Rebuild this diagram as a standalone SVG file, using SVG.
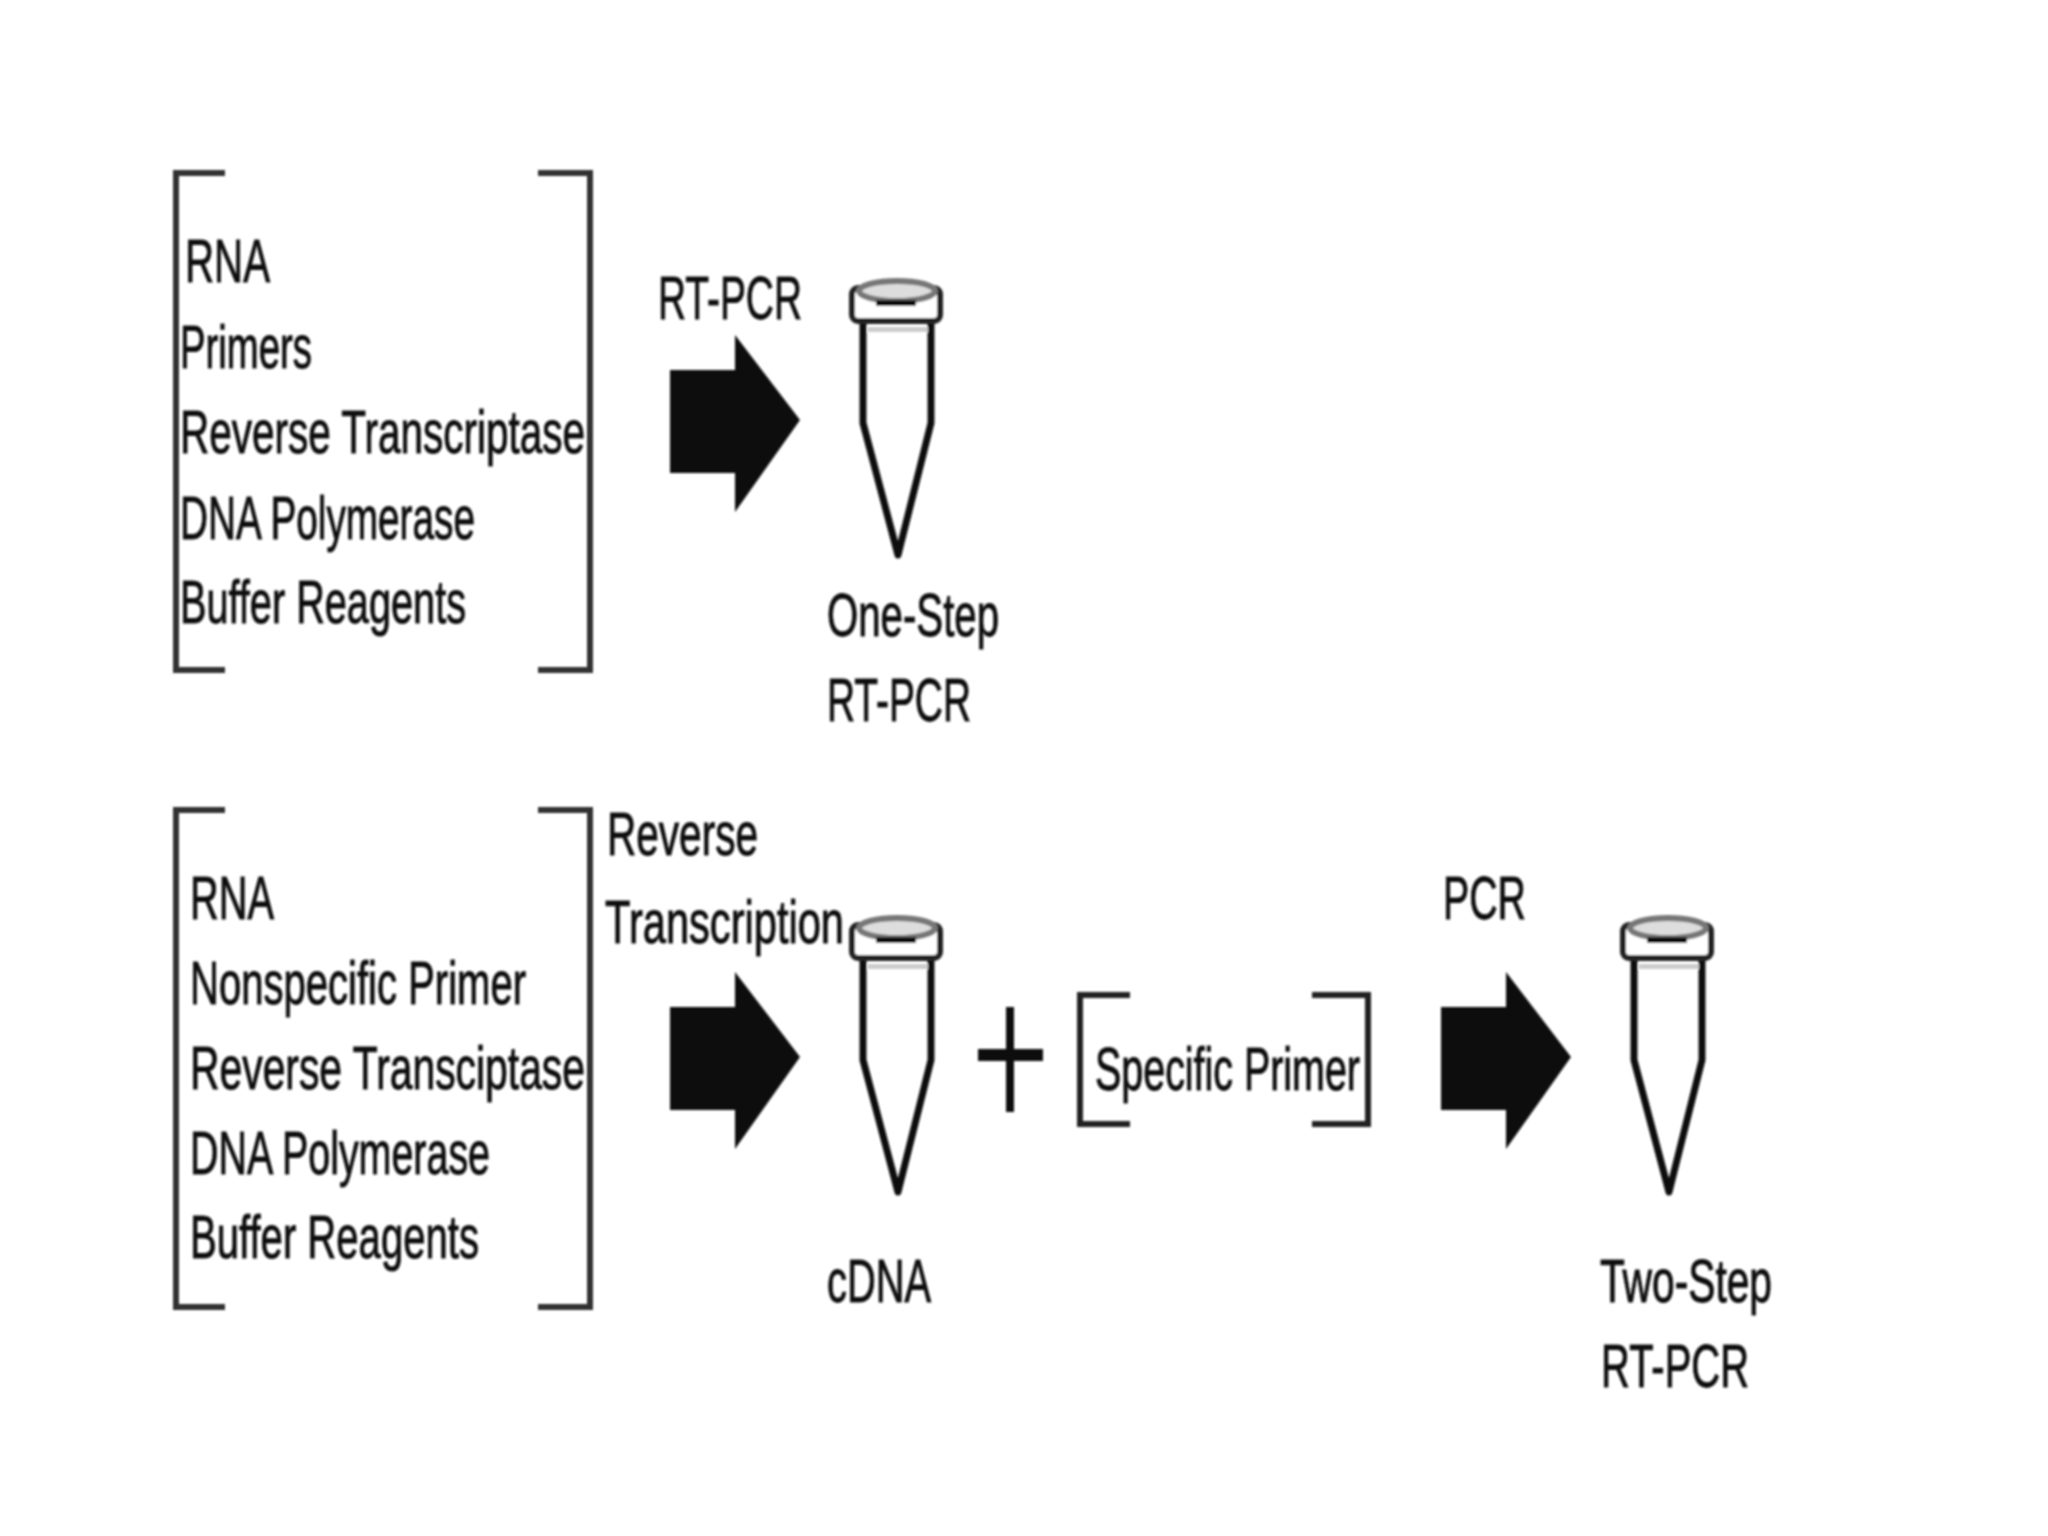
<svg xmlns="http://www.w3.org/2000/svg" width="2048" height="1536" viewBox="0 0 2048 1536">
<defs>
<style>
text{font-family:"Liberation Sans",Arial,sans-serif;font-size:62px;fill:#111;stroke:#111;stroke-width:1}
.br{fill:none;stroke:#333;stroke-width:6}
.tb{fill:none;stroke:#111;stroke-width:7;stroke-linejoin:round}
</style>
<filter id="soft" x="-5%" y="-5%" width="110%" height="110%"><feGaussianBlur stdDeviation="1.2"/></filter>
<g id="tube">
<path class="tb" d="M863 322V423L898 555L931 423V322"/>
<rect x="852" y="288" width="88" height="33" rx="6" fill="#fff" stroke="#222" stroke-width="6"/>
<ellipse cx="897" cy="291" rx="38" ry="10" fill="#ddd" stroke="#777" stroke-width="6"/>
<rect x="876" y="300" width="40" height="6" fill="#111"/>
<rect x="868" y="327" width="60" height="5" fill="#ccc"/>
</g>
<path id="arrow" d="M670 370H735V335L800 420L735 512V473H670Z" fill="#0c0c0c"/>
<g id="bigbr">
<path class="br" d="M225 173H176V670H225M538 173H590V670H538"/>
</g>
</defs>
<rect width="2048" height="1536" fill="#fff"/>
<g filter="url(#soft)">
<g id="connectors">
<use href="#arrow"/>
<use href="#arrow" y="637"/>
<use href="#arrow" x="771" y="637"/>
</g>
<g id="mix-one-step">
<use href="#bigbr"/>
<text x="185" y="282" textLength="85" lengthAdjust="spacingAndGlyphs">RNA</text>
<text x="180" y="368" textLength="132" lengthAdjust="spacingAndGlyphs">Primers</text>
<text x="180" y="453" textLength="405" lengthAdjust="spacingAndGlyphs">Reverse Transcriptase</text>
<text x="180" y="539" textLength="295" lengthAdjust="spacingAndGlyphs">DNA Polymerase</text>
<text x="180" y="623" textLength="286" lengthAdjust="spacingAndGlyphs">Buffer Reagents</text>
</g>
<g id="label-rt-pcr"><text x="658" y="319" textLength="144" lengthAdjust="spacingAndGlyphs">RT-PCR</text></g>
<g id="tube-one-step">
<use href="#tube"/>
<text x="827" y="636" textLength="172" lengthAdjust="spacingAndGlyphs">One-Step</text>
<text x="827" y="721" textLength="144" lengthAdjust="spacingAndGlyphs">RT-PCR</text>
</g>
<g id="mix-two-step">
<use href="#bigbr" y="637"/>
<text x="190" y="919" textLength="84" lengthAdjust="spacingAndGlyphs">RNA</text>
<text x="190" y="1004" textLength="336" lengthAdjust="spacingAndGlyphs">Nonspecific Primer</text>
<text x="190" y="1089" textLength="395" lengthAdjust="spacingAndGlyphs">Reverse Transciptase</text>
<text x="190" y="1174" textLength="300" lengthAdjust="spacingAndGlyphs">DNA Polymerase</text>
<text x="190" y="1258" textLength="289" lengthAdjust="spacingAndGlyphs">Buffer Reagents</text>
</g>
<g id="label-rev-trans">
<text x="607" y="855" textLength="151" lengthAdjust="spacingAndGlyphs">Reverse</text>
<text x="605" y="943" textLength="239" lengthAdjust="spacingAndGlyphs">Transcription</text>
</g>
<g id="tube-cdna">
<use href="#tube" y="637"/>
<text x="827" y="1302" textLength="104" lengthAdjust="spacingAndGlyphs">cDNA</text>
</g>
<g id="plus">
<rect x="1006" y="1007" width="8" height="105" fill="#111"/>
<rect x="978" y="1049" width="65" height="12" fill="#111"/>
</g>
<g id="specific-primer">
<path class="br" d="M1130 995H1080V1124H1130M1312 995H1368V1124H1312" style="stroke:#222"/>
<text x="1095" y="1090" textLength="265" lengthAdjust="spacingAndGlyphs">Specific Primer</text>
</g>
<g id="label-pcr"><text x="1443" y="919" textLength="83" lengthAdjust="spacingAndGlyphs">PCR</text></g>
<g id="tube-two-step">
<use href="#tube" x="771" y="637"/>
<text x="1600" y="1302" textLength="172" lengthAdjust="spacingAndGlyphs">Two-Step</text>
<text x="1601" y="1387" textLength="148" lengthAdjust="spacingAndGlyphs">RT-PCR</text>
</g>
</g>
</svg>
